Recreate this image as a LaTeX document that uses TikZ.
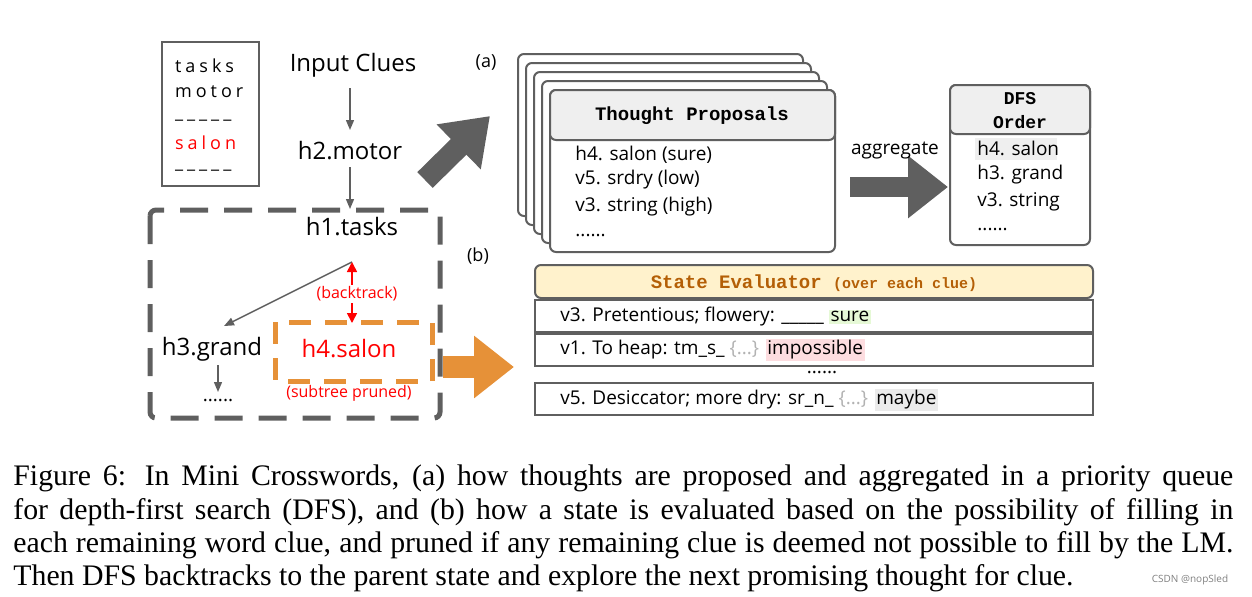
\documentclass[tikz,border=0pt]{standalone}
\usepackage{fontspec}
\setmainfont{Liberation Serif}
\newfontfamily\ds{Open Sans}
\newfontfamily\mono{Liberation Mono}
\usetikzlibrary{arrows.meta}
\definecolor{dg}{HTML}{5F5F5F}
\definecolor{org}{HTML}{E69138}
\definecolor{hdr}{HTML}{EFEFEF}
\definecolor{yel}{HTML}{FFF2CC}
\definecolor{brn}{HTML}{B45F06}
\setlength{\fboxsep}{0.8pt}
\begin{document}
\begin{tikzpicture}[x=0.5pt,y=-0.5pt,
  t/.style={font=\ds\fontsize{12}{14}\selectfont,inner sep=0},
  s/.style={font=\ds\fontsize{9.5}{11}\selectfont,inner sep=0,anchor=west},
  thin/.style={draw=dg,line width=0.7pt,-{Triangle[length=5pt,width=4pt]}},
  card/.style={draw=dg,line width=1pt,fill=white,rounded corners=3pt},
  row/.style={draw=dg,line width=1pt,fill=white}]
\useasboundingbox (0,0) rectangle (1252,596);
% tasks box
\draw[dg,line width=1pt] (162,42) rectangle (259,186);
\node[font=\ds\fontsize{9}{10}\selectfont,anchor=west] (tk) at (168,66) {t\kern2pt a\kern2pt s\kern2pt k\kern2pt s};
\node[font=\ds\fontsize{9}{10}\selectfont,anchor=west] (mo) at (168,92) {m\kern2pt o\kern2pt t\kern2pt o\kern2pt r};
\node[font=\ds\fontsize{9}{10}\selectfont,anchor=west] (d1) at (168,120) {\_\kern2pt\_\kern2pt\_\kern2pt\_\kern2pt\_};
\node[font=\ds\fontsize{9}{10}\selectfont,anchor=west,red] (sa) at (168,143) {s\kern2pt a\kern2pt l\kern2pt o\kern2pt n};
\node[font=\ds\fontsize{9}{10}\selectfont,anchor=west] (d2) at (168,170) {\_\kern2pt\_\kern2pt\_\kern2pt\_\kern2pt\_};
% tree
\node[t] (ic) at (353,65) {Input Clues};
\node[t] (h2) at (350,151) {h2.motor};
\node[t] (h1) at (352,227) {h1.tasks};
\node[t] (h3) at (212,349) {h3.grand};
\node[t,red] (h4) at (349,349) {h4.salon};
\node[s,anchor=center] (dd) at (218,400) {......};
\draw[thin] (350,88) -- (350,130);
\draw[thin] (350,167) -- (350,209);
\draw[dg,line width=2.5pt,dash pattern=on 14pt off 8pt,rounded corners=3pt] (150,210) rectangle (440,418);
\draw[org,line width=2.5pt,dash pattern=on 11pt off 7pt] (275,322) rectangle (432,381);
\node[font=\ds\fontsize{8}{9}\selectfont,red] (sp) at (349,393) {(subtree pruned)};
\coordinate (b1) at (352,262);
\coordinate (b3) at (224,326);
\draw[thin] (b1) -- (b3);
\coordinate (bt) at (352,262); \coordinate (bb) at (352,323);
\draw[red,line width=0.8pt,{Triangle[length=5pt,width=5pt]}-{Triangle[length=5pt,width=5pt]}] (bt) -- (bb);
\node[font=\ds\fontsize{8}{9}\selectfont,red,fill=white,inner sep=1pt] (bk) at (357,294) {(backtrack)};
\draw[thin] (218,365) -- (218,392);
\node[font=\ds\fontsize{9}{10}\selectfont] (la) at (486,62) {(a)};
\node[font=\ds\fontsize{9}{10}\selectfont] (lb) at (478,256) {(b)};
% big arrows
\draw[dg,line width=11pt,-{Triangle[length=22pt,width=30pt]}] (425,180) -- (490,116);
\draw[org,line width=11pt,-{Triangle[length=20pt,width=30pt]}] (443,367) -- (514,367);
\draw[dg,line width=10pt,-{Triangle[length=20pt,width=30pt]}] (850,187) -- (948,187);
% thought proposals stack
\foreach \i in {4,3,2,1} {\draw[card] (550-8*\i,90-9*\i) rectangle (835-8*\i,252-9*\i);}
\draw[card] (550,90) rectangle (835,252);
\draw[dg,line width=1pt,fill=hdr,rounded corners=3pt] (550,90) rectangle (835,140);
\node[font=\mono\bfseries\fontsize{9.5}{11}\selectfont] (tp) at (692,116) {Thought Proposals};
\node[s] (p1) at (575,155) {h4. salon (sure)};
\node[s] (p2) at (575,180) {v5. srdry (low)};
\node[s] (p3) at (575,207) {v3. string (high)};
\node[s] (p4) at (575,236) {......};
\node[s,anchor=center] (ag) at (895,151) {aggregate};
% DFS order
\draw[card] (950,85) rectangle (1090,245);
\draw[dg,line width=1pt,fill=hdr,rounded corners=3pt] (950,85) rectangle (1090,134);
\node[font=\mono\bfseries\fontsize{9}{12}\selectfont,align=center] (dfs) at (1020,111) {DFS\\Order};
\fill[hdr] (975,138) rectangle (1057,160);
\node[s] (o1) at (977,148) {h4. salon};
\node[s] (o2) at (977,175) {h3. grand};
\node[s] (o3) at (977,202) {v3. string};
\node[s] (o4) at (977,230) {......};
% state evaluator
\draw[dg,line width=1pt,fill=yel,rounded corners=3pt] (535,265) rectangle (1093,298);
\node[brn,inner sep=0] (se) at (814,283) {\mono\bfseries\fontsize{9.5}{11}\selectfont State Evaluator \fontsize{7.5}{9}\selectfont(over each clue)};
\draw[row] (535,300) rectangle (1093,332);
\draw[row] (535,334) rectangle (1093,366);
\draw[row] (535,383) rectangle (1093,415);
\node[s] (r1) at (560,317) {v3. Pretentious; flowery: \_\_\_\_\_ \colorbox[HTML]{E6F9D6}{sure}};
\node[s] (r2) at (560,350) {v1. To heap: tm\_s\_ {\color{gray!60}\{...\}} \colorbox[HTML]{FDDDE0}{impossible}};
\node[s,anchor=center] (rd) at (822,372) {......};
\node[s] (r3) at (560,400) {v5. Desiccator; more dry: sr\_n\_ {\color{gray!60}\{...\}} \colorbox[HTML]{EBEBEB}{maybe}};
% caption
\begin{scope}[every node/.style={anchor=west,inner sep=0,text width=610pt,align=justify,font=\fontsize{14.9}{17}\selectfont}]
\node (c1) at (13,478) {\parfillskip=0pt Figure 6: In Mini Crosswords, (a) how thoughts are proposed and aggregated in a priority queue\par};
\node (c2) at (13,512) {\parfillskip=0pt for depth-first search (DFS), and (b) how a state is evaluated based on the possibility of filling in\par};
\node (c3) at (13,545) {\parfillskip=0pt each remaining word clue, and pruned if any remaining clue is deemed not possible to fill by the LM.\par};
\node (c4) at (13,578) {Then DFS backtracks to the parent state and explore the next promising thought for clue.\par};
\end{scope}
\node[font=\ds\fontsize{5}{6}\selectfont,gray] (wm) at (1190,580) {CSDN @nopSled};
\end{tikzpicture}
\end{document}
